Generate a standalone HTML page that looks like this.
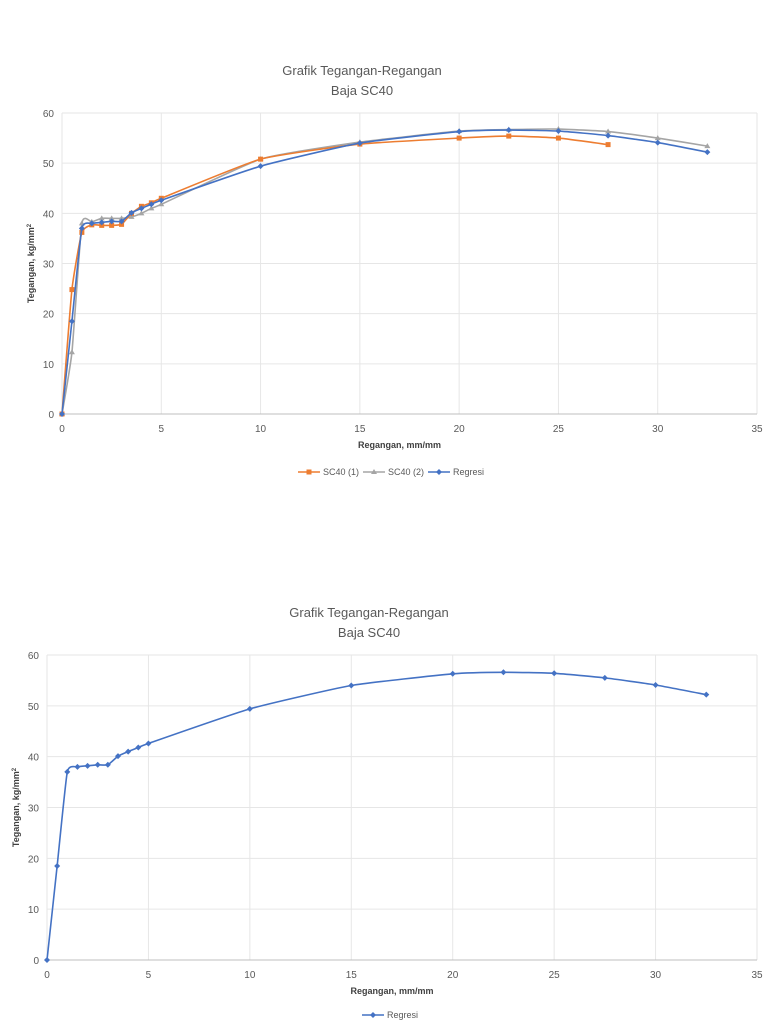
<!DOCTYPE html>
<html><head><meta charset="utf-8"><style>
body{margin:0;background:#fff;width:768px;height:1024px;overflow:hidden}
svg{font-family:"Liberation Sans",sans-serif}
</style></head><body>
<svg id="s" width="768" height="1024"></svg>
<script>
const xTicks=[0,5,10,15,20,25,30,35];
const yTicks=[0,10,20,30,40,50,60];
const x1=[0,0.5,1,1.5,2,2.5,3,3.5,4,4.5,5,10,15,20,22.5,25,27.5];
const sc1=[0,24.8,36.2,37.7,37.6,37.6,37.8,40,41.4,42.1,43,50.8,53.8,55,55.4,55,53.7];
const x2=[0,0.5,1,1.5,2,2.5,3,3.5,4,4.5,5,10,15,20,22.5,25,27.5,30,32.5];
const sc2=[0,12.3,38,38.3,39,39,39,39.3,40,41,41.8,50.8,54.2,56.4,56.7,56.8,56.3,55,53.4];
const regA=[0,18.5,37,38,38.2,38.4,38.4,40.1,41,41.8,42.6,49.4,54,56.3,56.6,56.4,55.5,54.1,52.2];
const regB=[0,18.5,37,38,38.2,38.4,38.4,40.1,41,41.8,42.6,49.4,54,56.3,56.6,56.4,55.5,54.1,52.2];
const NS="http://www.w3.org/2000/svg";
const svg=document.getElementById('s');
function mk(t,a,p){const e=document.createElementNS(NS,t);for(const k in a)e.setAttribute(k,a[k]);(p||svg).appendChild(e);return e;}
function smooth(pts,t){if(pts.length<2)return'';let d='M'+pts[0][0]+','+pts[0][1];
for(let i=0;i<pts.length-1;i++){const p0=pts[i-1]||pts[i],p1=pts[i],p2=pts[i+1],p3=pts[i+2]||p2;
const c1=[p1[0]+(p2[0]-p0[0])*t,p1[1]+(p2[1]-p0[1])*t],c2=[p2[0]-(p3[0]-p1[0])*t,p2[1]-(p3[1]-p1[1])*t];
d+=' C'+c1.join(',')+' '+c2.join(',')+' '+p2.join(',');}return d;}
function chart(c){
 const g=mk('g',{});
 
 
 const X=v=>c.x0+(v/35)*(c.x1-c.x0), Y=v=>c.y0-(v/60)*(c.y0-c.y1);
 xTicks.forEach(v=>{const l=mk('line',{x1:X(v),x2:X(v),y1:c.y1,y2:c.y0,stroke:'#e6e6e6'},g);
  
  const t=mk('text',{x:X(v),y:c.y0+18,'text-anchor':'middle','font-size':10,fill:'#595959'},g);t.textContent=v;
  });
 yTicks.forEach(v=>{const l=mk('line',{x1:c.x0,x2:c.x1,y1:Y(v),y2:Y(v),stroke:v?'#e6e6e6':'#bfbfbf'},g);
  
  const t=mk('text',{x:c.x0-8,y:Y(v)+4,'text-anchor':'end','font-size':10,fill:'#595959'},g);t.textContent=v;
  });
 const tt=mk('text',{x:c.tx,y:c.ty,'text-anchor':'middle','font-size':13,fill:'#595959'},g);
 tt.innerHTML='<tspan x="'+c.tx+'">Grafik Tegangan-Regangan</tspan><tspan x="'+c.tx+'" dy="20">Baja SC40</tspan>';
 
 const xt=mk('text',{x:(c.x0+c.x1)/2-10,y:c.y0+34,'text-anchor':'middle','font-size':9,'font-weight':'bold',fill:'#404040'},g);
 xt.textContent='Regangan, mm/mm';
 const ym=(c.y0+c.y1)/2;
 const yt=mk('text',{x:c.x0-c.yo,y:ym,'text-anchor':'middle','font-size':9,'font-weight':'bold',fill:'#404040',transform:'rotate(-90 '+(c.x0-c.yo)+' '+ym+')'},g);
 yt.innerHTML='Tegangan, kg/mm<tspan dy="-3" font-size="6">2</tspan>';
 
 c.series.forEach(s=>{
  const pts=s.xs.map((v,i)=>[X(v),Y(s.ys[i])]);
  const p=mk('path',{d:smooth(pts,0.08),fill:'none',stroke:s.col,'stroke-width':1.6},g);
  
  pts.forEach(q=>{let m;
   if(s.mk==='sq')m=mk('rect',{x:q[0]-2.5,y:q[1]-2.5,width:5,height:5,fill:s.col},g);
   else if(s.mk==='tri')m=mk('path',{d:`M${q[0]},${q[1]-3}L${q[0]+3},${q[1]+2}L${q[0]-3},${q[1]+2}Z`,fill:s.col},g);
   else m=mk('path',{d:`M${q[0]},${q[1]-3}L${q[0]+3},${q[1]}L${q[0]},${q[1]+3}L${q[0]-3},${q[1]}Z`,fill:s.col},g);
   });
 });
 c.legend.forEach(l=>{const lg=mk('g',{},g);
  
  mk('line',{x1:l.x,x2:l.x+22,y1:c.ly,y2:c.ly,stroke:l.col,'stroke-width':1.6},lg);
  const q=[l.x+11,c.ly];
  if(l.mk==='sq')mk('rect',{x:q[0]-2.5,y:q[1]-2.5,width:5,height:5,fill:l.col},lg);
  else if(l.mk==='tri')mk('path',{d:`M${q[0]},${q[1]-3}L${q[0]+3},${q[1]+2}L${q[0]-3},${q[1]+2}Z`,fill:l.col},lg);
  else mk('path',{d:`M${q[0]},${q[1]-3}L${q[0]+3},${q[1]}L${q[0]},${q[1]+3}L${q[0]-3},${q[1]}Z`,fill:l.col},lg);
  const t=mk('text',{x:l.x+25,y:c.ly+3,'font-size':9,fill:'#595959'},lg);t.textContent=l.txt;});
}
chart({name:'chart-1',x0:62,x1:757,y0:414,y1:113,tx:362,ty:75,yo:28,ly:472,
 series:[{id:'sc40-2',xs:x2,ys:sc2,col:'#a5a5a5',mk:'tri'},{id:'sc40-1',xs:x1,ys:sc1,col:'#ed7d31',mk:'sq'},{id:'regresi',xs:x2,ys:regA,col:'#4472c4',mk:'dia'}],
 legend:[{x:298,txt:'SC40 (1)',col:'#ed7d31',mk:'sq'},{x:363,txt:'SC40 (2)',col:'#a5a5a5',mk:'tri'},{x:428,txt:'Regresi',col:'#4472c4',mk:'dia'}]});
chart({name:'chart-2',x0:47,x1:757,y0:960,y1:655,tx:369,ty:617,yo:28,ly:1015,
 series:[{id:'regresi-2',xs:x2,ys:regB,col:'#4472c4',mk:'dia'}],
 legend:[{x:362,txt:'Regresi',col:'#4472c4',mk:'dia'}]});
</script>
</body></html>
